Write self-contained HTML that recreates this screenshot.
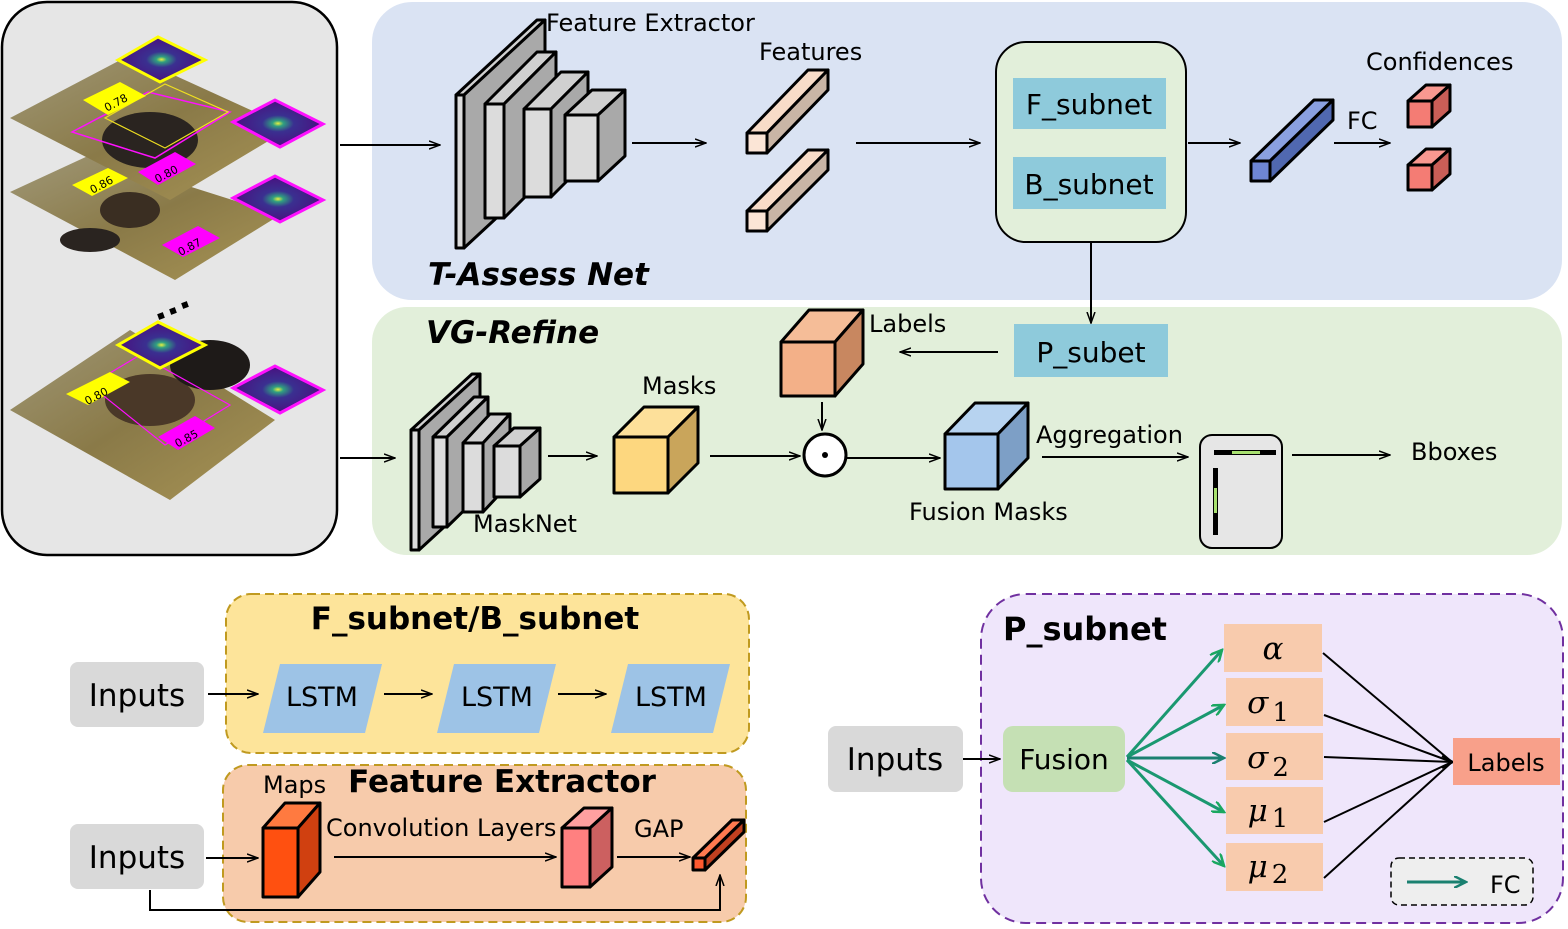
<!DOCTYPE html>
<html><head><meta charset="utf-8"><style>
body{margin:0;background:#fff;}
svg{display:block;font-family:"DejaVu Sans","Liberation Sans",sans-serif;}
</style></head><body>
<svg width="1568" height="929" viewBox="0 0 1568 929" xmlns="http://www.w3.org/2000/svg">
<defs>
<marker id="a" markerWidth="12" markerHeight="10" refX="11" refY="5" orient="auto" markerUnits="userSpaceOnUse"><path d="M0,1 L11,5 L0,9" fill="none" stroke="#000" stroke-width="1.5"/></marker>
<marker id="g" markerWidth="14" markerHeight="12" refX="12" refY="6" orient="auto" markerUnits="userSpaceOnUse"><path d="M0,0 L12,6 L0,12" fill="none" stroke="#1aa860" stroke-width="2.5"/></marker>
<marker id="t" markerWidth="14" markerHeight="12" refX="12" refY="6" orient="auto" markerUnits="userSpaceOnUse"><path d="M0,0 L12,6 L0,12" fill="none" stroke="#1a8070" stroke-width="2.5"/></marker>
<linearGradient id="photo" x1="0" y1="0" x2="1" y2="1"><stop offset="0" stop-color="#a09878"/><stop offset="0.5" stop-color="#8a7a48"/><stop offset="1" stop-color="#a89455"/></linearGradient>
<radialGradient id="heat"><stop offset="0" stop-color="#e8f040"/><stop offset="0.12" stop-color="#30a080"/><stop offset="0.35" stop-color="#3a3090"/><stop offset="1" stop-color="#4a1080"/></radialGradient>
</defs>

<rect x="2" y="2" width="335" height="553" rx="45" fill="#e6e6e6" stroke="#000" stroke-width="2.5"/>
<polygon points="10,192 90,155 280,215 175,280" fill="url(#photo)"/>
<polygon points="10,118 130,55 290,128 170,200" fill="url(#photo)"/>
<ellipse cx="150" cy="140" rx="48" ry="28" fill="#2a2420"/>
<ellipse cx="130" cy="210" rx="30" ry="18" fill="#3a2e22"/>
<ellipse cx="90" cy="240" rx="30" ry="12" fill="#2a2420"/>
<polygon points="72,132 148,92 230,112 155,158" fill="none" stroke="#ff10ff" stroke-width="1.5"/>
<polygon points="105,118 165,84 228,112 165,148" fill="none" stroke="#f0e020" stroke-width="1.2"/>
<polygon points="83,100 120,82 146,96 108,115" fill="#ffff00"/><text x="102" y="108" font-size="11" transform="rotate(-28 112 100)">0.78</text>
<polygon points="138,172 175,152 196,164 158,185" fill="#ff00ff"/><text x="152" y="178" font-size="11" transform="rotate(-28 165 170)">0.80</text>
<polygon points="72,185 108,168 128,178 92,196" fill="#ffff00"/><text x="88" y="190" font-size="11" transform="rotate(-28 98 183)">0.86</text>
<polygon points="162,245 198,226 220,238 183,257" fill="#ff00ff"/><text x="175" y="250" font-size="11" transform="rotate(-28 190 242)">0.87</text>
<polygon points="118,60 158,37 205,60 160,82" fill="url(#heat)" stroke="#ffff00" stroke-width="3"/>
<polygon points="233,122 275,100 323,124 280,147" fill="url(#heat)" stroke="#ff10ff" stroke-width="3"/>
<polygon points="233,198 275,176 323,200 280,222" fill="url(#heat)" stroke="#ff10ff" stroke-width="3"/>
<rect x="158" y="313" width="6" height="6" fill="#000" transform="rotate(-20 161 316)"/>
<rect x="170" y="308" width="6" height="6" fill="#000" transform="rotate(-20 173 311)"/>
<rect x="182" y="302" width="6" height="6" fill="#000" transform="rotate(-20 185 305)"/>
<polygon points="10,410 130,330 275,420 170,500" fill="url(#photo)"/>
<ellipse cx="150" cy="400" rx="45" ry="26" fill="#4a3828"/>
<ellipse cx="210" cy="365" rx="40" ry="25" fill="#1e1a18"/>
<polygon points="90,385 140,355 230,405 165,445" fill="none" stroke="#ff10ff" stroke-width="1.2"/>
<polygon points="66,394 110,372 130,382 88,405" fill="#ffff00"/><text x="82" y="400" font-size="11" transform="rotate(-28 95 392)">0.80</text>
<polygon points="158,437 195,416 215,428 178,450" fill="#ff00ff"/><text x="172" y="442" font-size="11" transform="rotate(-28 186 434)">0.85</text>
<polygon points="118,345 158,322 205,345 160,368" fill="url(#heat)" stroke="#ffff00" stroke-width="3"/>
<polygon points="233,388 275,366 323,390 280,413" fill="url(#heat)" stroke="#ff10ff" stroke-width="3"/>

<rect x="372" y="2" width="1190" height="298" rx="40" fill="#dae3f3"/>
<rect x="372" y="307" width="1190" height="248" rx="35" fill="#e2efda"/>

<g stroke="#000" stroke-width="3" stroke-linejoin="round">
<polygon points="456,95 537,20 545,20 464,95" fill="#d0d0d0"/><polygon points="464,95 545,20 545,173 464,248" fill="#a9a9a9"/><rect x="456" y="95" width="8" height="153" fill="#dcdcdc"/>
<polygon points="485,104 537,52 556,52 504,104" fill="#d0d0d0"/><polygon points="504,104 556,52 556,166 504,218" fill="#a9a9a9"/><rect x="485" y="104" width="19" height="114" fill="#dcdcdc"/>
<polygon points="524,109 561,72 588,72 551,109" fill="#d0d0d0"/><polygon points="551,109 588,72 588,160 551,197" fill="#a9a9a9"/><rect x="524" y="109" width="27" height="88" fill="#dcdcdc"/>
<polygon points="565,115 592,90 625,90 598,115" fill="#d0d0d0"/><polygon points="598,115 625,90 625,156 598,181" fill="#a9a9a9"/><rect x="565" y="115" width="33" height="66" fill="#dcdcdc"/>
<polygon points="747,133 808,70 828,70 767,133" fill="#f8dcc8"/><polygon points="767,133 828,70 828,90 767,153" fill="#c9b5a5"/><rect x="747" y="133" width="20" height="20" fill="#fbe5d6"/>
<polygon points="747,211 808,150 828,150 767,211" fill="#f8dcc8"/><polygon points="767,211 828,150 828,170 767,231" fill="#c9b5a5"/><rect x="747" y="211" width="20" height="20" fill="#fbe5d6"/>
<polygon points="1251,161 1314,100 1333,100 1270,161" fill="#8aa0e0"/><polygon points="1270,161 1333,100 1333,120 1270,181" fill="#5068b0"/><rect x="1251" y="161" width="19" height="20" fill="#6e86d4"/>
<polygon points="1408,101 1426,85 1450,85 1432,101" fill="#f89890"/><polygon points="1432,101 1450,85 1450,111 1432,127" fill="#c95e57"/><rect x="1408" y="101" width="24" height="26" fill="#f47c74"/>
<polygon points="1408,165 1426,149 1450,149 1432,165" fill="#f89890"/><polygon points="1432,165 1450,149 1450,174 1432,190" fill="#c95e57"/><rect x="1408" y="165" width="24" height="25" fill="#f47c74"/>
<polygon points="781,342 809,310 863,310 835,342" fill="#f5bd98"/><polygon points="835,342 863,310 863,364 835,396" fill="#c88760"/><rect x="781" y="342" width="54" height="54" fill="#f3b088"/>
<polygon points="614,437 644,407 698,407 668,437" fill="#fde09a"/><polygon points="668,437 698,407 698,463 668,493" fill="#c9a55b"/><rect x="614" y="437" width="54" height="56" fill="#fdd77f"/>
<polygon points="945,434 975,403 1028,403 998,434" fill="#b7d3f0"/><polygon points="998,434 1028,403 1028,458 998,489" fill="#7d9fc6"/><rect x="945" y="434" width="53" height="55" fill="#a4c6ec"/>
<polygon points="411,430 472,374 480,374 419,430" fill="#d0d0d0"/><polygon points="419,430 480,374 480,494 419,550" fill="#a9a9a9"/><rect x="411" y="430" width="8" height="120" fill="#dcdcdc"/>
<polygon points="433,437 474,397 488,397 447,437" fill="#d0d0d0"/><polygon points="447,437 488,397 488,487 447,527" fill="#a9a9a9"/><rect x="433" y="437" width="14" height="90" fill="#dcdcdc"/>
<polygon points="463,443 490,414 510,414 483,443" fill="#d0d0d0"/><polygon points="483,443 510,414 510,483 483,512" fill="#a9a9a9"/><rect x="463" y="443" width="20" height="69" fill="#dcdcdc"/>
<polygon points="494,446 514,428 540,428 520,446" fill="#d0d0d0"/><polygon points="520,446 540,428 540,479 520,497" fill="#a9a9a9"/><rect x="494" y="446" width="26" height="51" fill="#dcdcdc"/>
</g>

<rect x="996" y="42" width="190" height="200" rx="30" fill="#e2efda" stroke="#000" stroke-width="2"/>
<rect x="1013" y="78" width="153" height="51" fill="#8ecadb"/>
<rect x="1013" y="157" width="153" height="52" fill="#8ecadb"/>
<rect x="1014" y="324" width="154" height="53" fill="#8ecadb"/>
<text x="1089" y="114" font-size="28" text-anchor="middle">F_subnet</text>
<text x="1089" y="194" font-size="28" text-anchor="middle">B_subnet</text>
<text x="1091" y="362" font-size="28" text-anchor="middle">P_subet</text>

<rect x="1200" y="435" width="82" height="113" rx="12" fill="#e6e6e6" stroke="#000" stroke-width="2"/>
<rect x="1214" y="450" width="62" height="5" fill="#000"/><rect x="1232" y="451" width="28" height="3" fill="#a8e070"/>
<rect x="1213" y="468" width="5" height="67" fill="#000"/><rect x="1214" y="488" width="3" height="25" fill="#a8e070"/>

<circle cx="825" cy="455" r="21" fill="#fff" stroke="#000" stroke-width="3"/><circle cx="825" cy="455" r="3" fill="#000"/>

<g stroke="#000" stroke-width="2" fill="none" marker-end="url(#a)">
<line x1="340" y1="145" x2="440" y2="145"/>
<line x1="632" y1="143" x2="706" y2="143"/>
<line x1="856" y1="143" x2="980" y2="143"/>
<line x1="1188" y1="143" x2="1240" y2="143"/>
<line x1="1334" y1="143" x2="1390" y2="143"/>
<line x1="1091" y1="243" x2="1091" y2="323"/>
<line x1="998" y1="352" x2="900" y2="352"/>
<line x1="822" y1="402" x2="822" y2="430"/>
<line x1="710" y1="456" x2="800" y2="456"/>
<line x1="847" y1="458" x2="940" y2="458"/>
<line x1="1042" y1="457" x2="1188" y2="457"/>
<line x1="1292" y1="455" x2="1390" y2="455"/>
<line x1="340" y1="458" x2="395" y2="458"/>
<line x1="548" y1="456" x2="597" y2="456"/>
</g>

<g font-size="24" fill="#000">
<text x="546" y="31">Feature Extractor</text>
<text x="759" y="60">Features</text>
<text x="1366" y="70">Confidences</text>
<text x="1347" y="129">FC</text>
<text x="869" y="332">Labels</text>
<text x="642" y="394">Masks</text>
<text x="473" y="532">MaskNet</text>
<text x="1036" y="443">Aggregation</text>
<text x="909" y="520">Fusion Masks</text>
<text x="1411" y="460">Bboxes</text>
</g>
<text x="428" y="285" font-size="31" font-weight="bold" font-style="italic">T-Assess Net</text>
<text x="426" y="343" font-size="31" font-weight="bold" font-style="italic">VG-Refine</text>

<rect x="226" y="594" width="523" height="159" rx="25" fill="#fde49a" stroke="#c09a20" stroke-width="2" stroke-dasharray="9,5"/>
<rect x="223" y="765" width="523" height="157" rx="25" fill="#f7cbab" stroke="#c09a20" stroke-width="2" stroke-dasharray="9,5"/>
<text x="475" y="629" font-size="31" font-weight="bold" text-anchor="middle">F_subnet/B_subnet</text>
<text x="502" y="792" font-size="31" font-weight="bold" text-anchor="middle">Feature Extractor</text>
<rect x="70" y="662" width="134" height="65" rx="8" fill="#d9d9d9"/>
<rect x="70" y="824" width="134" height="65" rx="8" fill="#d9d9d9"/>
<text x="137" y="706" font-size="31" text-anchor="middle">Inputs</text>
<text x="137" y="868" font-size="31" text-anchor="middle">Inputs</text>
<polygon points="280,664 382,664 365,733 263,733" fill="#9dc3e6"/>
<polygon points="454,664 556,664 539,733 437,733" fill="#9dc3e6"/>
<polygon points="628,664 730,664 713,733 611,733" fill="#9dc3e6"/>
<text x="322" y="706" font-size="27" text-anchor="middle">LSTM</text>
<text x="497" y="706" font-size="27" text-anchor="middle">LSTM</text>
<text x="671" y="706" font-size="27" text-anchor="middle">LSTM</text>
<g stroke="#000" stroke-width="2" fill="none" marker-end="url(#a)">
<line x1="208" y1="694" x2="258" y2="694"/>
<line x1="384" y1="694" x2="432" y2="694"/>
<line x1="558" y1="694" x2="606" y2="694"/>
<line x1="206" y1="858" x2="258" y2="858"/>
<line x1="334" y1="857" x2="556" y2="857"/>
<line x1="617" y1="857" x2="690" y2="857"/>
<polyline points="150,890 150,910 720,910 720,875"/>
</g>
<g stroke="#000" stroke-width="3" stroke-linejoin="round">
<polygon points="263,828 285,803 320,803 298,828" fill="#ff7a40"/><polygon points="298,828 320,803 320,872 298,897" fill="#d04010"/><rect x="263" y="828" width="35" height="69" fill="#ff5010"/>
<polygon points="562,828 584,808 612,808 590,828" fill="#ffa0a0"/><polygon points="590,828 612,808 612,867 590,887" fill="#cc6060"/><rect x="562" y="828" width="28" height="59" fill="#ff8080"/>
<polygon points="693,858 732,820 744,820 705,858" fill="#ff7a50"/><polygon points="705,858 744,820 744,832 705,870" fill="#c04020"/><rect x="693" y="858" width="12" height="12" fill="#ff5a30"/>
</g>
<text x="263" y="793" font-size="24">Maps</text>
<text x="326" y="836" font-size="24">Convolution Layers</text>
<text x="634" y="837" font-size="24">GAP</text>

<rect x="981" y="594" width="582" height="329" rx="45" fill="#efe6fb" stroke="#7030a0" stroke-width="2" stroke-dasharray="10,6"/>
<text x="1003" y="640" font-size="32" font-weight="bold">P_subnet</text>
<rect x="828" y="726" width="135" height="66" rx="8" fill="#d9d9d9"/>
<text x="895" y="770" font-size="31" text-anchor="middle">Inputs</text>
<line x1="963" y1="759" x2="1000" y2="759" stroke="#000" stroke-width="2" marker-end="url(#a)"/>
<rect x="1003" y="726" width="122" height="66" rx="10" fill="#c5e0b4"/>
<text x="1064" y="769" font-size="28" text-anchor="middle">Fusion</text>
<g fill="#f8cbad">
<rect x="1224" y="624" width="98" height="48"/>
<rect x="1226" y="678" width="97" height="48"/>
<rect x="1226" y="733" width="97" height="47"/>
<rect x="1226" y="787" width="97" height="47"/>
<rect x="1226" y="843" width="97" height="48"/>
</g>
<g font-family="'DejaVu Serif','Liberation Serif',serif" font-style="italic" font-size="31" text-anchor="middle">
<text x="1273" y="659">α</text>
<text x="1268" y="713">σ<tspan font-style="normal" font-size="26" dx="4" dy="8">1</tspan></text>
<text x="1268" y="768">σ<tspan font-style="normal" font-size="26" dx="4" dy="8">2</tspan></text>
<text x="1268" y="821">μ<tspan font-style="normal" font-size="26" dx="4" dy="6">1</tspan></text>
<text x="1268" y="877">μ<tspan font-style="normal" font-size="26" dx="4" dy="6">2</tspan></text>
</g>
<g stroke-width="3" fill="none">
<line x1="1127" y1="757" x2="1222" y2="650" stroke="#1a9870" marker-end="url(#g)"/>
<line x1="1127" y1="757" x2="1224" y2="705" stroke="#1a9870" marker-end="url(#g)"/>
<line x1="1127" y1="758" x2="1224" y2="758" stroke="#1a8070" marker-end="url(#t)"/>
<line x1="1127" y1="760" x2="1224" y2="812" stroke="#1a9870" marker-end="url(#g)"/>
<line x1="1127" y1="760" x2="1224" y2="866" stroke="#1a9870" marker-end="url(#g)"/>
</g>
<g stroke="#000" stroke-width="2">
<line x1="1323" y1="653" x2="1452" y2="762"/>
<line x1="1324" y1="715" x2="1452" y2="762"/>
<line x1="1324" y1="757" x2="1452" y2="762"/>
<line x1="1324" y1="822" x2="1452" y2="762"/>
<line x1="1324" y1="878" x2="1452" y2="762"/>
</g>
<path d="M1442,756 L1453,762 L1442,768" fill="none" stroke="#000" stroke-width="2"/>
<rect x="1453" y="738" width="107" height="47" fill="#f8a08a"/>
<text x="1506" y="771" font-size="24" text-anchor="middle">Labels</text>
<rect x="1391" y="858" width="142" height="47" rx="8" fill="#eeeeee" stroke="#000" stroke-width="1.5" stroke-dasharray="6,4"/>
<line x1="1407" y1="882" x2="1466" y2="882" stroke="#1a8070" stroke-width="3" marker-end="url(#t)"/>
<text x="1490" y="893" font-size="24">FC</text>
</svg>
</body></html>
